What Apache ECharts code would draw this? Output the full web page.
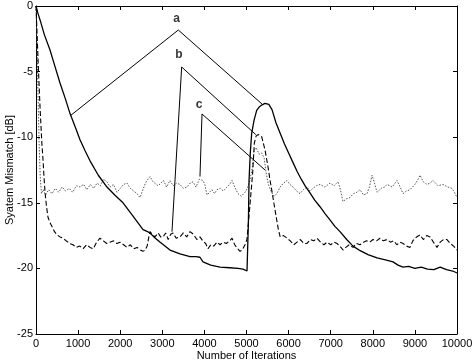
<!DOCTYPE html>
<html>
<head>
<meta charset="utf-8">
<script src="https://cdn.jsdelivr.net/npm/echarts@6/dist/echarts.min.js"></script>
<style>
html,body{margin:0;padding:0;background:#fff;}
#chart{width:474px;height:363px;}
</style>
</head>
<body>
<div id="chart"></div>
<script>
// ---- data (iteration, mismatch dB) ----
const solidCurve = [
[0,0],[50,-0.6],[100,-1.1],[200,-2.2],[333,-3.35],[450,-4.6],[570,-5.87],[700,-7.1],[808,-8.2],[930,-9.2],
[1045,-10.2],[1160,-11.0],[1283,-11.8],[1480,-12.9],[1686,-13.8],[1870,-14.4],[2067,-15.0],[2300,-16.0],
[2542,-17.05],[2650,-17.2],[2708,-17.3],[2800,-17.6],[2950,-18.0],[3183,-18.6],[3420,-18.9],[3658,-19.1],
[3800,-19.1],[3895,-19.15],[3967,-19.5],[4150,-19.75],[4371,-19.9],[4600,-19.95],[4800,-20.0],[4917,-20.05],
[5012,-20.2],[5030,-20.3],[5045,-16.5],[5060,-13.3],[5090,-11.2],[5123,-9.7],[5180,-8.7],[5242,-7.95],
[5300,-7.7],[5361,-7.55],[5440,-7.42],[5480,-7.4],[5530,-7.5],[5606,-7.9],[5700,-8.9],[5800,-9.7],[5900,-10.5],
[6000,-11.2],[6100,-11.9],[6200,-12.6],[6300,-13.2],[6400,-13.75],[6508,-14.25],[6620,-14.8],[6746,-15.3],
[6860,-15.8],[6983,-16.3],[7100,-16.8],[7221,-17.2],[7380,-17.8],[7530,-18.3],[7700,-18.65],[7886,-18.95],
[8100,-19.2],[8300,-19.35],[8480,-19.5],[8600,-19.75],[8717,-19.9],[8850,-19.85],[9000,-20.0],[9150,-19.9],
[9300,-20.05],[9450,-20.1],[9600,-19.9],[9750,-20.1],[9900,-20.2],[10000,-20.35]
];
const dashedCurve = [
[0,0],[30,-2.5],[60,-5],[100,-8],[140,-10.5],[166,-11.7],[190,-13],[214,-14.2],[250,-15.3],[285,-16.1],
[330,-16.5],[380,-16.8],[440,-17.2],[500,-17.45],[570,-17.6],[640,-17.7],[720,-17.9],[800,-18.1],[879,-18.2],
[960,-18.4],[1040,-18.3],[1120,-18.5],[1200,-18.2],[1283,-18.4],[1360,-18.5],[1440,-18.0],[1520,-17.7],
[1600,-17.9],[1680,-18.1],[1758,-18.0],[1840,-17.9],[1920,-18.1],[1995,-18.0],[2080,-18.2],[2162,-18.4],
[2240,-18.2],[2320,-18.5],[2400,-18.4],[2480,-18.6],[2540,-18.7],[2590,-18.6],[2640,-18.3],[2680,-17.6],
[2708,-17.2],[2760,-17.4],[2827,-17.6],[2900,-17.3],[2960,-17.6],[3017,-17.6],[3080,-17.3],[3140,-17.8],
[3200,-17.4],[3254,-17.3],[3330,-17.7],[3420,-17.6],[3500,-17.3],[3580,-17.6],[3658,-17.2],[3740,-17.4],
[3820,-17.8],[3895,-17.6],[3960,-17.9],[4030,-18.1],[4086,-18.5],[4150,-18.2],[4220,-18.3],[4300,-18.0],
[4370,-18.2],[4442,-18.0],[4520,-18.1],[4600,-17.9],[4656,-17.7],[4720,-18.2],[4790,-18.5],[4846,-18.7],
[4900,-18.6],[4964,-18.2],[5010,-17.8],[5060,-16.0],[5100,-14.5],[5147,-12.7],[5186,-10.45],[5230,-9.9],
[5281,-9.8],[5361,-9.96],[5440,-10.97],[5480,-11.7],[5518,-12.4],[5560,-13.3],[5598,-14.0],[5680,-15.6],
[5755,-17.0],[5800,-17.6],[5880,-17.5],[5962,-17.7],[6040,-17.9],[6120,-18.2],[6200,-18.0],[6280,-17.8],
[6360,-18.1],[6437,-18.1],[6520,-17.8],[6600,-17.9],[6675,-17.7],[6760,-18.0],[6840,-18.2],[6912,-18.0],
[7000,-18.2],[7080,-18.0],[7150,-18.1],[7220,-18.3],[7292,-18.6],[7360,-18.4],[7440,-18.2],[7530,-18.4],
[7610,-18.1],[7696,-18.2],[7780,-18.0],[7850,-17.9],[7930,-18.0],[8005,-17.8],[8090,-17.9],[8170,-17.7],
[8250,-17.9],[8337,-17.8],[8420,-18.0],[8500,-17.9],[8570,-18.2],[8646,-18.0],[8720,-18.1],[8800,-18.3],
[8884,-18.4],[8950,-17.9],[9040,-17.6],[9121,-17.45],[9200,-17.8],[9280,-17.5],[9359,-17.6],[9440,-18.0],
[9525,-18.4],[9600,-18.0],[9680,-17.8],[9762,-17.8],[9840,-18.1],[9920,-18.3],[10000,-18.6]
];
const dottedCurve = [
[0,0],[25,-3],[50,-7],[75,-10.5],[100,-13],[130,-14.3],[170,-14.0],[230,-14.4],[300,-14.0],[380,-14.3],
[460,-13.9],[540,-14.2],[620,-13.8],[700,-14.1],[790,-13.9],[870,-14.2],[960,-13.7],[1045,-13.8],[1130,-13.6],
[1210,-14.0],[1290,-13.6],[1370,-13.9],[1450,-13.5],[1530,-13.7],[1600,-13.2],[1686,-13.4],[1760,-13.8],
[1840,-13.6],[1924,-14.2],[2000,-13.9],[2080,-13.6],[2162,-13.5],[2240,-13.9],[2320,-14.1],[2400,-14.3],
[2470,-14.6],[2540,-14.0],[2600,-13.5],[2637,-13.3],[2708,-13.0],[2780,-13.4],[2827,-13.3],[2900,-13.7],
[2945,-13.6],[3030,-13.3],[3100,-13.8],[3183,-13.3],[3260,-13.7],[3340,-13.5],[3420,-13.6],[3500,-13.9],
[3587,-13.8],[3660,-13.5],[3729,-13.4],[3800,-13.8],[3880,-13.2],[3967,-13.3],[4010,-13.6],[4062,-14.4],
[4120,-14.2],[4180,-14.0],[4240,-14.3],[4300,-14.0],[4380,-13.9],[4450,-14.1],[4537,-13.8],[4600,-13.6],
[4656,-13.3],[4720,-13.8],[4798,-14.3],[4880,-14.5],[4964,-14.2],[5020,-13.9],[5080,-13.3],[5140,-12.3],
[5180,-11.0],[5230,-10.8],[5300,-11.3],[5360,-11.2],[5420,-11.6],[5460,-12.6],[5520,-13.6],[5580,-14.1],
[5650,-14.5],[5724,-14.3],[5796,-13.8],[5880,-13.5],[5962,-13.3],[6030,-13.6],[6105,-13.8],[6190,-14.1],
[6271,-14.3],[6350,-14.0],[6437,-13.8],[6510,-14.1],[6580,-13.9],[6660,-13.7],[6746,-13.6],[6860,-13.8],
[6983,-13.5],[7080,-13.7],[7173,-13.4],[7230,-14.0],[7292,-14.9],[7370,-14.7],[7458,-14.6],[7540,-14.3],
[7620,-14.2],[7696,-14.0],[7780,-14.4],[7862,-14.3],[7920,-13.8],[7981,-12.9],[8040,-13.5],[8100,-14.2],
[8200,-13.9],[8280,-13.8],[8337,-13.6],[8460,-13.8],[8575,-13.3],[8650,-13.8],[8717,-14.3],[8800,-14.1],
[8884,-14.0],[9000,-13.6],[9060,-13.3],[9121,-12.9],[9200,-13.4],[9287,-13.6],[9360,-13.5],[9430,-13.3],
[9550,-13.7],[9667,-13.6],[9780,-13.8],[9881,-13.9],[9940,-14.2],[10000,-14.6]
];
// annotation pointers (data coordinates) and their labels
const pointerA = [[820,-8.35],[3380,-1.83],[5368,-7.47]];
const pointerB = [[3230,-17.2],[3460,-4.65],[5220,-9.8]];
const pointerC = [[3895,-13.0],[3943,-8.23],[5440,-12.5]];
const pointerLabels = [
  {name:'a', value:[3342,-0.94]},
  {name:'b', value:[3397,-3.73]},
  {name:'c', value:[3872,-7.5]}
];
const xTicks = {min:0, max:10000, interval:1000};
const yTicks = {min:-25, max:0, interval:5};
const xName = 'Number of Iterations';
const yName = 'Syatem Mismatch [dB]';

const font = 'Liberation Sans, Arial, Helvetica, sans-serif';
const plain = v => String(v);
const axisCommon = {
  type:'value',
  axisLine:{show:true, onZero:false, lineStyle:{color:'#000', width:1}},
  axisTick:{show:true, inside:true, length:4, lineStyle:{color:'#000'}},
  splitLine:{show:false},
  axisLabel:{color:'#000', fontSize:11, fontFamily:font, formatter:plain}
};
const chart = echarts.init(document.getElementById('chart'), null, {renderer:'canvas'});
function lineSeries(data, style, z){
  return {type:'line', data:data, showSymbol:false, symbol:'none', smooth:false,
    lineStyle:style, animation:false, z:z||2, xAxisIndex:0, yAxisIndex:0};
}
chart.setOption({
  backgroundColor:'#fff',
  animation:false,
  grid:{left:36, right:17, top:6, bottom:29, containLabel:false, outerBoundsMode:'none'},
  xAxis:[
    Object.assign({}, axisCommon, xTicks, {position:'bottom',
      name:xName, nameLocation:'middle', nameGap:16, nameMoveOverlap:false,
      nameTextStyle:{color:'#000', fontSize:11, fontFamily:font},
      axisLabel:{color:'#000', fontSize:11, fontFamily:font, margin:4, formatter:plain}}),
    Object.assign({}, axisCommon, xTicks, {position:'top', axisLabel:{show:false}})
  ],
  yAxis:[
    Object.assign({}, axisCommon, yTicks, {position:'left',
      name:yName, nameLocation:'middle', nameGap:21, nameMoveOverlap:false,
      nameTextStyle:{color:'#000', fontSize:11, fontFamily:font},
      axisLabel:{color:'#000', fontSize:11, fontFamily:font, margin:3, formatter:plain}}),
    Object.assign({}, axisCommon, yTicks, {position:'right', axisLabel:{show:false}})
  ],
  series:[
    lineSeries(dottedCurve, {color:'#555', width:1, type:[1.5,1.5]}, 2),
    lineSeries(dashedCurve, {color:'#000', width:1.1, type:[5,2.5]}, 3),
    lineSeries(solidCurve, {color:'#000', width:1.3, type:'solid'}, 4),
    lineSeries(pointerA, {color:'#000', width:1, type:'solid'}, 5),
    lineSeries(pointerB, {color:'#000', width:1, type:'solid'}, 5),
    lineSeries(pointerC, {color:'#000', width:1, type:'solid'}, 5),
    {type:'scatter', data:pointerLabels, symbolSize:0, animation:false, z:6,
      label:{show:true, position:'inside', formatter:'{b}', color:'#000',
        fontSize:12, fontWeight:'bold', fontFamily:font}}
  ]
});
</script>
</body>
</html>
